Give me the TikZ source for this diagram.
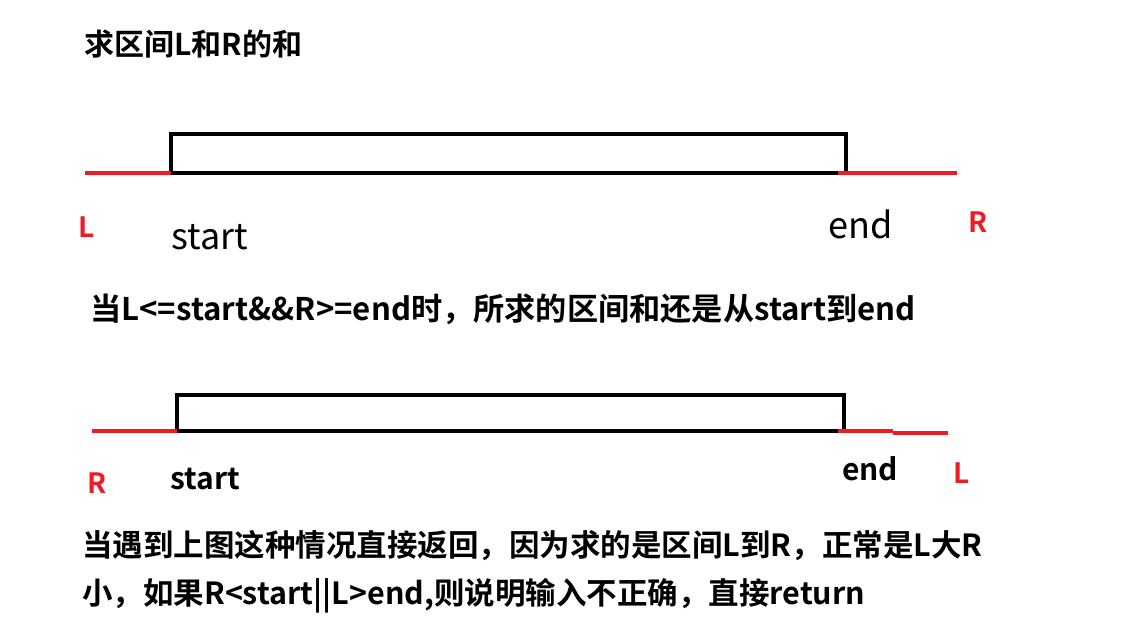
\documentclass[tikz,border=0pt]{standalone}
\usepackage{fontspec}
\setmainfont{Noto Sans CJK SC}
\newfontfamily\cjkb{Noto Sans CJK SC Bold}
\definecolor{pr}{RGB}{237,28,36}
\begin{document}
\begin{tikzpicture}[x=1pt,y=-1pt,
  bx/.style={draw=black,line width=4pt},
  rl/.style={draw=pr,line width=4pt},
  lab/.style={font=\cjkb\fontsize{28}{30}\selectfont,text=pr},
  txt/.style={font=\cjkb\fontsize{30.5}{34}\selectfont,anchor=west,inner sep=0pt}]
\useasboundingbox (0,0) rectangle (1124,629);
\node[font=\cjkb\fontsize{30}{34}\selectfont,anchor=west,inner sep=0pt] (t) at (84,44) {求区间L和R的和};
% box 1
\draw[bx] (171,173) rectangle (846,134);
\coordinate (a1) at (85,173); \coordinate (a2) at (171,173);
\coordinate (b1) at (838,173); \coordinate (b2) at (957,173);
\draw[rl] (a1) -- (a2); \draw[rl] (b1) -- (b2);
\node[lab] (L1) at (87,227) {L};
\node[font=\fontsize{36}{40}\selectfont] (s1) at (210,237) {start};
\node[font=\fontsize{36}{40}\selectfont] (e1) at (861,224) {end};
\node[lab] (R1) at (978,222) {R};
\node[txt,font=\cjkb\fontsize{31.2}{34}\selectfont] (l1) at (90,309) {当L<=start\&\&R>=end时，所求的区间和还是从start到end};
% box 2
\draw[bx] (177,431) rectangle (844,395);
\coordinate (c1) at (92,431); \coordinate (c2) at (177,431);
\coordinate (d1) at (838,431); \coordinate (d2) at (893,431);
\coordinate (d3) at (893,433); \coordinate (d4) at (948,433);
\draw[rl] (c1) -- (c2); \draw[rl] (d1) -- (d2); \draw[rl] (d3) -- (d4);
\node[lab] (R2) at (97,483) {R};
\node[font=\cjkb\fontsize{30}{32}\selectfont] (s2) at (205,479) {start};
\node[font=\cjkb\fontsize{30}{32}\selectfont] (e2) at (870,469) {end};
\node[lab] (L2) at (962,473) {L};
\node[txt] (l2) at (82,546) {当遇到上图这种情况直接返回，因为求的是区间L到R，正常是L大R};
\node[txt] (l3) at (82,596) {小，如果R<start||L>end,则说明输入不正确，直接return};
\end{tikzpicture}
\end{document}
